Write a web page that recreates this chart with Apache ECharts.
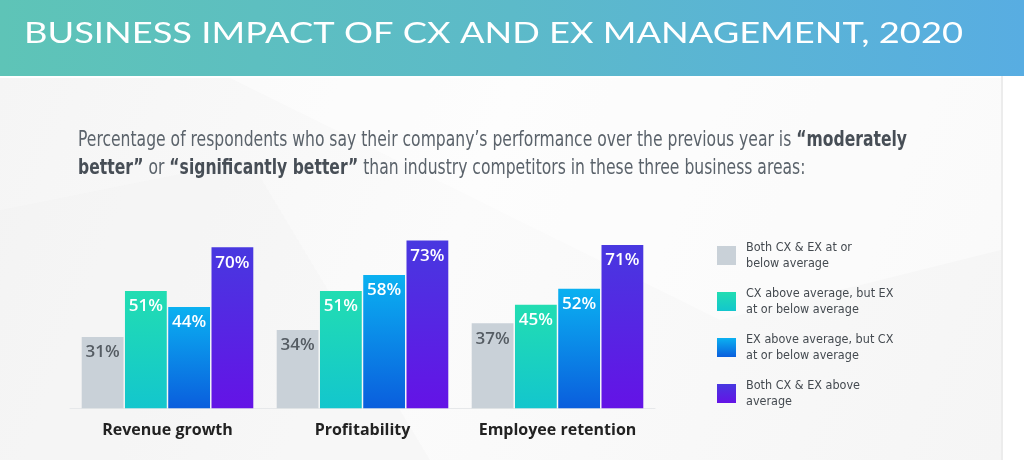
<!DOCTYPE html>
<html>
<head>
<meta charset="utf-8">
<script src="https://cdn.jsdelivr.net/npm/echarts@6/dist/echarts.min.js"></script>
<style>
html,body{margin:0;padding:0;background:#ffffff;}
#c{width:1024px;height:460px;}
</style>
</head>
<body>
<div id="c"></div>
<script>
// ---------- data ----------
const titleText = 'BUSINESS IMPACT OF CX AND EX MANAGEMENT, 2020';
const subtitleLine1 = [
  ['Percentage of respondents who say their company’s performance over the previous year is ', 'n'],
  ['“moderately', 'b']
];
const subtitleLine2 = [
  ['better”', 'b'],
  [' or ', 'n'],
  ['“significantly better”', 'b'],
  [' than industry competitors in these three business areas:', 'n']
];
const categories = ['Revenue growth', 'Profitability', 'Employee retention'];
const seriesNames = [
  'Both CX & EX at or\nbelow average',
  'CX above average, but EX\nat or below average',
  'EX above average, but CX\nat or below average',
  'Both CX & EX above\naverage'
];
const bothBelow = [31, 34, 37];
const cxAbove = [51, 51, 45];
const exAbove = [44, 58, 52];
const bothAbove = [70, 73, 71];
const seriesValues = [bothBelow, cxAbove, exAbove, bothAbove];

// ---------- helpers ----------
const ctx = document.createElement('canvas').getContext('2d');
function measure(text, font) { ctx.font = font; return ctx.measureText(text).width; }
const condensed = "'Liberation Sans Narrow','DejaVu Sans Condensed','Roboto Condensed','Liberation Sans',sans-serif";
const titleFont = "Lato,'Open Sans',sans-serif";
const boldFont = "'Open Sans',Lato,sans-serif";

const LG = (a, b) => new echarts.graphic.LinearGradient(0, 0, 0, 1, [
  { offset: 0, color: a }, { offset: 1, color: b }
]);
const barColors = [
  '#c9d1d8',
  LG('#22ddb2', '#13c6cd'),
  LG('#0bb1f1', '#0a5edd'),
  LG('#4838e0', '#6413e6')
];
const labelColors = ['#555c63', '#ffffff', '#ffffff', '#ffffff'];

// title scale
const titleSize = 29;
const titleWeight = 400;
const titleW = measure(titleText, titleWeight + ' ' + titleSize + 'px ' + titleFont);
const titleScale = 939 / titleW;

// subtitle scale
const subSize = 21;
const fontN = '400 ' + subSize + 'px ' + condensed;
const fontB = '700 ' + subSize + 'px ' + condensed;
function lineWidth(parts) {
  return parts.reduce((s, p) => s + measure(p[0], p[1] === 'b' ? fontB : fontN), 0);
}
const subScale = 829 / lineWidth(subtitleLine1);
function richLine(parts) {
  return parts.map(p => '{' + p[1] + '|' + p[0] + '}').join('');
}
const subRich = {
  n: { fontFamily: condensed, fontSize: subSize, fontWeight: 400, fill: '#5b636b', color: '#5b636b' },
  b: { fontFamily: condensed, fontSize: subSize, fontWeight: 700, fill: '#474e56', color: '#474e56' }
};

// legend font size
let legendSize = 14 * 142 / measure('CX above average, but EX', '400 14px ' + condensed);
legendSize = Math.max(12.5, Math.min(14.5, legendSize));

const chart = echarts.init(document.getElementById('c'));

const option = {
  animation: false,
  backgroundColor: '#ffffff',
  graphic: [
    // page background
    { type: 'rect', z: -10, shape: { x: 0, y: 76, width: 1001, height: 384 },
      style: { fill: new echarts.graphic.LinearGradient(0, 0, 1, 1, [
        { offset: 0, color: '#f5f5f5' }, { offset: 0.45, color: '#fbfbfb' }, { offset: 1, color: '#f5f5f5' }]) } },
    { type: 'polygon', z: -9, shape: { points: [[0, 210], [250, 160], [430, 460], [0, 460]] },
      style: { fill: 'rgba(240,240,240,0.35)' } },
    { type: 'polygon', z: -9, shape: { points: [[230, 78], [1001, 78], [1001, 250], [720, 320]] },
      style: { fill: 'rgba(255,255,255,0.45)' } },
    { type: 'rect', z: -8, shape: { x: 1001, y: 76, width: 2, height: 384 },
      style: { fill: '#ececec' } },
    { type: 'rect', z: -8, shape: { x: 1003, y: 76, width: 21, height: 384 },
      style: { fill: '#ffffff' } },
    // header band
    { type: 'rect', z: -5, shape: { x: 0, y: 0, width: 1024, height: 76 },
      style: { fill: new echarts.graphic.LinearGradient(0, 0, 1, 0, [
        { offset: 0, color: '#5ec4b7' }, { offset: 0.5, color: '#5cbac9' }, { offset: 1, color: '#58ade2' }]) } },
    { type: 'rect', z: -5, shape: { x: 0, y: 76, width: 1001, height: 2 },
      style: { fill: '#ffffff' } },
    // title
    { type: 'text', x: 24, y: 33.5, scaleX: titleScale, scaleY: 1,
      style: { text: titleText, fill: '#ffffff', fontFamily: titleFont, fontWeight: titleWeight,
               fontSize: titleSize, verticalAlign: 'middle', align: 'left' } },
    // subtitle
    { type: 'text', x: 78, y: 141, scaleX: subScale, scaleY: 1,
      style: { text: richLine(subtitleLine1), rich: subRich, verticalAlign: 'middle', align: 'left',
               fontSize: subSize, fontFamily: condensed } },
    { type: 'text', x: 78, y: 168.5, scaleX: subScale, scaleY: 1,
      style: { text: richLine(subtitleLine2), rich: subRich, verticalAlign: 'middle', align: 'left',
               fontSize: subSize, fontFamily: condensed } }
  ],
  legend: {
    orient: 'vertical',
    left: 717,
    top: 234.5,
    padding: 0,
    itemGap: 4,
    itemWidth: 19,
    itemHeight: 19,
    icon: 'rect',
    selectedMode: false,
    textStyle: {
      fontFamily: condensed,
      fontSize: legendSize,
      lineHeight: 16,
      color: '#444a50',
      padding: [10, 0, 0, 5]
    },
    data: seriesNames
  },
  grid: { left: 70, right: 369, top: 178.3, bottom: 51.7, containLabel: false },
  xAxis: {
    type: 'category',
    data: categories,
    axisLine: { show: true, lineStyle: { color: '#e6e8ea', width: 1 } },
    axisTick: { show: false },
    axisLabel: {
      interval: 0,
      margin: 14,
      fontFamily: boldFont,
      fontWeight: 700,
      fontSize: 16,
      color: '#222222'
    }
  },
  yAxis: {
    type: 'value', min: 0, max: 100, interval: 20, show: false,
    splitLine: { show: false }
  },
  series: seriesNames.map((name, i) => ({
    name: name,
    type: 'bar',
    data: seriesValues[i],
    barGap: '3.5%',
    barCategoryGap: '12%',
    itemStyle: { color: barColors[i] },
    label: {
      show: true,
      position: 'insideTop',
      distance: 7,
      formatter: '{c}%',
      fontFamily: boldFont,
      fontWeight: 600,
      fontSize: 17,
      color: labelColors[i]
    }
  }))
};
chart.setOption(option);
</script>
</body>
</html>
